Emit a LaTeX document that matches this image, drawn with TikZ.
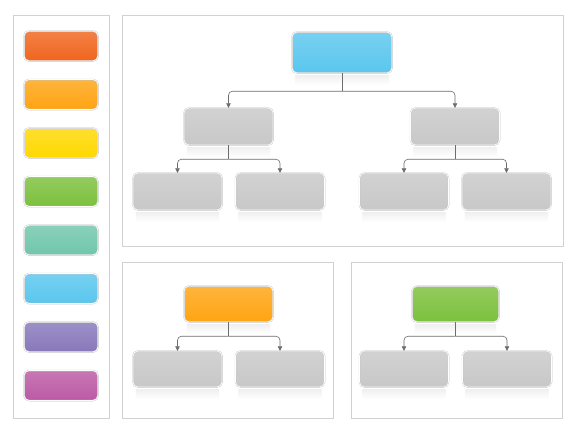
\documentclass[tikz,border=0pt]{standalone}
\usepackage{xcolor}
\usetikzlibrary{arrows.meta,calc}

\definecolor{boxred}{HTML}{F0651E}
\definecolor{boxorange}{HTML}{FFA412}
\definecolor{boxyellow}{HTML}{FFD800}
\definecolor{boxgreen}{HTML}{7CC03C}
\definecolor{boxteal}{HTML}{70C6AC}
\definecolor{boxblue}{HTML}{5AC6EE}
\definecolor{boxpurple}{HTML}{8878BB}
\definecolor{boxpink}{HTML}{BC5AA5}
\definecolor{boxgray}{HTML}{C8C8C8}

\begin{document}
\begin{tikzpicture}[
    x=1pt, y=-1pt,
    panel/.style={draw=gray!35, line width=0.8pt, fill=white},
    color_box/.style={rectangle, rounded corners=5pt, draw=gray!45, double=white, double distance=0.7pt, line width=0.4pt, top color=#1!82!white, bottom color=#1, minimum width=74pt, minimum height=30pt, inner sep=0pt},
    gray_box/.style={color_box=boxgray, minimum width=89pt, minimum height=37pt},
    tree_line/.style={draw=gray!85!black, line width=0.6pt},
    tree_arrow/.style={tree_line, rounded corners=4pt, -{Triangle[length=4.5pt,width=4.5pt]}},
    reflection/.style={top color=gray!12, bottom color=white, draw=none}
]

\useasboundingbox (0,0) rectangle (576,432);

% Panels
\draw[panel] (13,15) rectangle (109,418);
\draw[panel] (122,15) rectangle (563,246);
\draw[panel] (122,262) rectangle (333,418);
\draw[panel] (351,262) rectangle (562,418);

% Left: colour swatches
\foreach \c [count=\i] in {boxred,boxorange,boxyellow,boxgreen,boxteal,boxblue,boxpurple,boxpink}
    \node[color_box=\c] (swatch\i) at (61,{46+48.5*(\i-1)}) {};

% Top: three level tree
\node[color_box=boxblue, minimum width=100pt, minimum height=41pt] (root) at (342,52.5) {};
\node[gray_box] (mid_left) at (228.5,126.5) {};
\node[gray_box] (mid_right) at (455,126.5) {};
\node[gray_box] (leaf1) at (177.5,191.5) {};
\node[gray_box] (leaf2) at (280,191.5) {};
\node[gray_box] (leaf3) at (404,191.5) {};
\node[gray_box] (leaf4) at (506.5,191.5) {};

% Bottom left: orange tree
\node[color_box=boxorange, minimum width=89pt, minimum height=36pt] (orange_root) at (228.5,304) {};
\node[gray_box, minimum height=36pt] (orange_leaf1) at (177.5,369) {};
\node[gray_box, minimum height=36pt] (orange_leaf2) at (280,369) {};

% Bottom right: green tree
\node[color_box=boxgreen, minimum width=87pt, minimum height=36pt] (green_root) at (455.5,304) {};
\node[gray_box, minimum height=36pt] (green_leaf1) at (404,369) {};
\node[gray_box, minimum height=36pt] (green_leaf2) at (507,369) {};

% Reflections under the tree boxes
\foreach \n in {root,mid_left,mid_right,leaf1,leaf2,leaf3,leaf4,orange_root,orange_leaf1,orange_leaf2,green_root,green_leaf1,green_leaf2}
    \shade[reflection] ([xshift=3pt,yshift=-2pt]\n.south west) rectangle ([xshift=-3pt,yshift=-12pt]\n.south east);

% Fork points
\coordinate (root_fork) at ($(root.south)+(0,18)$);
\coordinate (mid_left_fork) at ($(mid_left.south)+(0,14)$);
\coordinate (mid_right_fork) at ($(mid_right.south)+(0,14)$);
\coordinate (orange_fork) at ($(orange_root.south)+(0,14)$);
\coordinate (green_fork) at ($(green_root.south)+(0,14)$);

% Flow: top tree
\draw[tree_line] (root.south) -- (root_fork);
\draw[tree_arrow] (root_fork) -| (mid_left.north);
\draw[tree_arrow] (root_fork) -| (mid_right.north);
\draw[tree_line] (mid_left.south) -- (mid_left_fork);
\draw[tree_arrow] (mid_left_fork) -| (leaf1.north);
\draw[tree_arrow] (mid_left_fork) -| (leaf2.north);
\draw[tree_line] (mid_right.south) -- (mid_right_fork);
\draw[tree_arrow] (mid_right_fork) -| (leaf3.north);
\draw[tree_arrow] (mid_right_fork) -| (leaf4.north);

% Flow: bottom trees
\draw[tree_line] (orange_root.south) -- (orange_fork);
\draw[tree_arrow] (orange_fork) -| (orange_leaf1.north);
\draw[tree_arrow] (orange_fork) -| (orange_leaf2.north);
\draw[tree_line] (green_root.south) -- (green_fork);
\draw[tree_arrow] (green_fork) -| (green_leaf1.north);
\draw[tree_arrow] (green_fork) -| (green_leaf2.north);

\end{tikzpicture}
\end{document}
